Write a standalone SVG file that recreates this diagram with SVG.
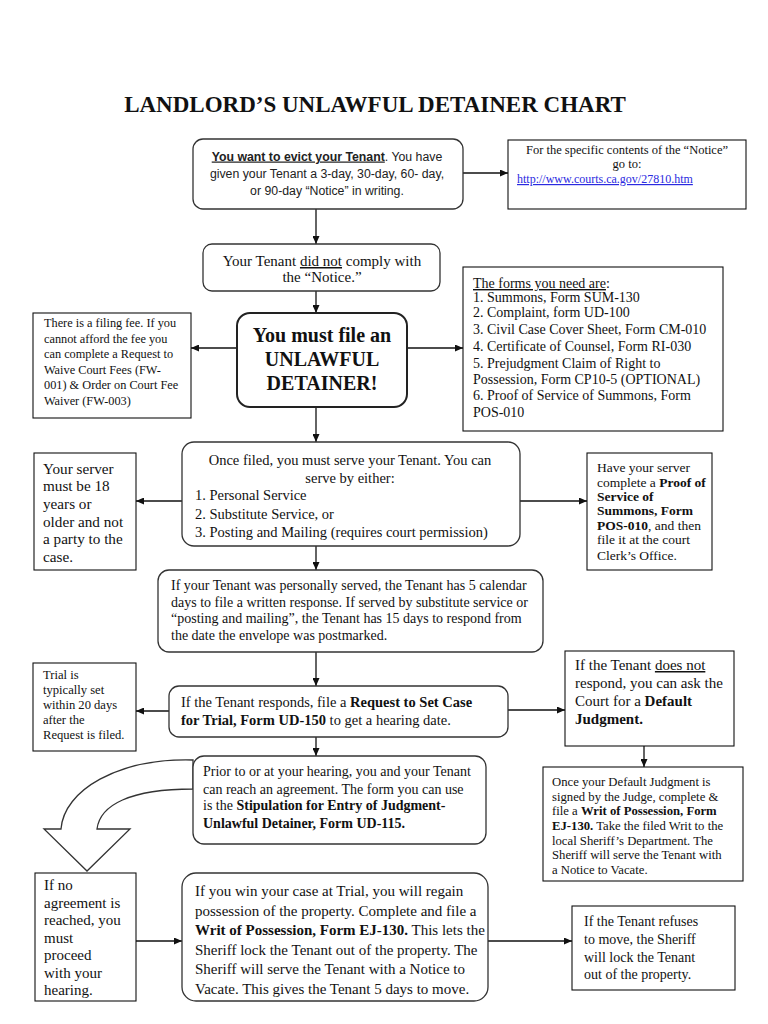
<svg xmlns="http://www.w3.org/2000/svg" width="768" height="1024" viewBox="0 0 768 1024">
<defs>
<marker id="ah" markerUnits="userSpaceOnUse" markerWidth="8" markerHeight="7" refX="8" refY="3.5" orient="auto"><path d="M0,0 L8,3.5 L0,7 z" fill="#111"/></marker>
<style>
.rb{fill:#fff;stroke:#333;stroke-width:1.3}
.sb{fill:#fff;stroke:#111;stroke-width:1.1}
.t{font-family:"Liberation Serif",serif;fill:#111}
.s{font-family:"Liberation Sans",Arial,sans-serif;fill:#222}
.b{font-weight:bold}
.u{text-decoration:underline}
.c{stroke:#111;stroke-width:1.3;fill:none;marker-end:url(#ah)}
</style>
</defs>
<rect width="768" height="1024" fill="#fff"/>
<text x="375" y="112" text-anchor="middle" class="t b" font-size="23">LANDLORD’S UNLAWFUL DETAINER CHART</text>

<g id="connectors">
<line class="c" x1="463" y1="173" x2="508" y2="173"/>
<line class="c" x1="316" y1="209" x2="316" y2="244"/>
<line class="c" x1="316" y1="291" x2="316" y2="313"/>
<line class="c" x1="237" y1="348" x2="191" y2="348"/>
<line class="c" x1="407" y1="348" x2="463" y2="348"/>
<line class="c" x1="316" y1="407" x2="316" y2="442"/>
<line class="c" x1="182" y1="501" x2="136" y2="501"/>
<line class="c" x1="520" y1="501" x2="587" y2="501"/>
<line class="c" x1="316" y1="546" x2="316" y2="570"/>
<line class="c" x1="316" y1="652" x2="316" y2="686"/>
<line class="c" x1="169" y1="711" x2="136" y2="711"/>
<line class="c" x1="508" y1="710" x2="565" y2="710"/>
<line class="c" x1="316" y1="737" x2="316" y2="756"/>
<line class="c" x1="644" y1="746" x2="644" y2="767"/>
<line class="c" x1="136" y1="941" x2="182" y2="941"/>
<line class="c" x1="488" y1="941" x2="572" y2="941"/>
<path id="curved-arrow" d="M193,760 C118,758 64,790 61,829 L44,829 L87,871 L130,829 L97,829 C100,805 130,789 193,789 Z" fill="#fff" stroke="#333" stroke-width="1.3"/>
</g>

<g id="evict">
<rect class="rb" x="193" y="139" width="270" height="70" rx="10"/>
<text class="s" font-size="12.3" x="327" y="160.5" text-anchor="middle"><tspan class="b u">You want to evict your Tenant</tspan>. You have</text>
<text class="s" font-size="12.3" x="327" y="177.5" text-anchor="middle">given your Tenant a 3-day, 30-day, 60- day,</text>
<text class="s" font-size="12.3" x="327" y="194.5" text-anchor="middle">or 90-day “Notice” in writing.</text>
</g>

<g id="notice-link">
<rect class="sb" x="508" y="140" width="238" height="69"/>
<text class="t" font-size="12.5" x="627" y="154" text-anchor="middle">For the specific contents of the “Notice”</text>
<text class="t" font-size="12.5" x="627" y="168" text-anchor="middle">go to:</text>
<text class="t u" font-size="12" x="517" y="183" style="fill:#2a2ae0">http://www.courts.ca.gov/27810.htm</text>
</g>

<g id="not-comply">
<rect class="rb" x="203" y="244" width="237" height="47" rx="9"/>
<text class="t" font-size="15" x="322" y="266" text-anchor="middle">Your Tenant <tspan class="u">did not</tspan> comply with</text>
<text class="t" font-size="15" x="322" y="282" text-anchor="middle">the “Notice.”</text>
</g>

<g id="file-ud">
<rect x="237" y="313" width="170" height="94" rx="13" fill="#fff" stroke="#222" stroke-width="2"/>
<text class="t b" font-size="20" x="322" y="342" text-anchor="middle">You must file an</text>
<text class="t b" font-size="20" x="322" y="366" text-anchor="middle">UNLAWFUL</text>
<text class="t b" font-size="20" x="322" y="390" text-anchor="middle">DETAINER!</text>
</g>

<g id="filing-fee">
<rect class="sb" x="33" y="313" width="158" height="105"/>
<text class="t" font-size="12.3">
<tspan x="44" y="327">There is a filing fee. If you</tspan>
<tspan x="44" y="342.5">cannot afford the fee you</tspan>
<tspan x="44" y="358">can complete a Request to</tspan>
<tspan x="44" y="373.5">Waive Court Fees (FW-</tspan>
<tspan x="44" y="389">001) &amp; Order on Court Fee</tspan>
<tspan x="44" y="404.5">Waiver (FW-003)</tspan>
</text>
</g>

<g id="forms">
<rect class="sb" x="463" y="267" width="260" height="164"/>
<text class="t" font-size="14">
<tspan x="473" y="288" class="u">The forms you need are</tspan><tspan>:</tspan>
<tspan x="473" y="302">1. Summons, Form SUM-130</tspan>
<tspan x="473" y="317">2. Complaint, form UD-100</tspan>
<tspan x="473" y="334">3. Civil Case Cover Sheet, Form CM-010</tspan>
<tspan x="473" y="351">4. Certificate of Counsel, Form RI-030</tspan>
<tspan x="473" y="368">5. Prejudgment Claim of Right to</tspan>
<tspan x="473" y="384">Possession, Form CP10-5 (OPTIONAL)</tspan>
<tspan x="473" y="400">6. Proof of Service of Summons, Form</tspan>
<tspan x="473" y="417">POS-010</tspan>
</text>
</g>

<g id="serve">
<rect class="rb" x="182" y="442" width="338" height="104" rx="12"/>
<text class="t" font-size="14.5" x="350" y="465" text-anchor="middle">Once filed, you must serve your Tenant. You can</text>
<text class="t" font-size="14.5" x="350" y="483" text-anchor="middle">serve by either:</text>
<text class="t" font-size="14.5" x="195" y="500">1. Personal Service</text>
<text class="t" font-size="14.5" x="195" y="519">2. Substitute Service, or</text>
<text class="t" font-size="14.5" x="195" y="537">3. Posting and Mailing (requires court permission)</text>
</g>

<g id="server-age">
<rect class="sb" x="34" y="453" width="102" height="117"/>
<text class="t" font-size="15.2">
<tspan x="43" y="474">Your server</tspan>
<tspan x="43" y="491">must be 18</tspan>
<tspan x="43" y="509">years or</tspan>
<tspan x="43" y="527">older and not</tspan>
<tspan x="43" y="544">a party to the</tspan>
<tspan x="43" y="562">case.</tspan>
</text>
</g>

<g id="proof">
<rect class="sb" x="587" y="453" width="125" height="117"/>
<text class="t" font-size="13.5">
<tspan x="597" y="472">Have your server</tspan>
<tspan x="597" y="486.5">complete a <tspan class="b">Proof of</tspan></tspan>
<tspan x="597" y="500.5" class="b">Service of</tspan>
<tspan x="597" y="514.5" class="b">Summons, Form</tspan>
<tspan x="597" y="529.5"><tspan class="b">POS-010</tspan>, and then</tspan>
<tspan x="597" y="543.5">file it at the court</tspan>
<tspan x="597" y="559.5">Clerk’s Office.</tspan>
</text>
</g>

<g id="response-time">
<rect class="rb" x="158" y="570" width="385" height="82" rx="11"/>
<text class="t" font-size="14">
<tspan x="171" y="590">If your Tenant was personally served, the Tenant has 5 calendar</tspan>
<tspan x="171" y="607">days to file a written response. If served by substitute service or</tspan>
<tspan x="171" y="623">“posting and mailing”, the Tenant has 15 days to respond from</tspan>
<tspan x="171" y="640">the date the envelope was postmarked.</tspan>
</text>
</g>

<g id="trial-set">
<rect class="sb" x="33" y="663" width="103" height="88"/>
<text class="t" font-size="12.6">
<tspan x="43" y="679">Trial is</tspan>
<tspan x="43" y="694">typically set</tspan>
<tspan x="43" y="709">within 20 days</tspan>
<tspan x="43" y="724">after the</tspan>
<tspan x="43" y="739">Request is filed.</tspan>
</text>
</g>

<g id="request-trial">
<rect class="rb" x="169" y="686" width="339" height="51" rx="10"/>
<text class="t" font-size="14.5">
<tspan x="181" y="707">If the Tenant responds, file a <tspan class="b">Request to Set Case</tspan></tspan>
<tspan x="181" y="725"><tspan class="b">for Trial, Form UD-150</tspan> to get a hearing date.</tspan>
</text>
</g>

<g id="default">
<rect class="sb" x="565" y="651" width="169" height="95"/>
<text class="t" font-size="15">
<tspan x="575" y="670">If the Tenant <tspan class="u">does not</tspan></tspan>
<tspan x="575" y="688">respond, you can ask the</tspan>
<tspan x="575" y="706">Court for a <tspan class="b">Default</tspan></tspan>
<tspan x="575" y="724" class="b">Judgment.</tspan>
</text>
</g>

<g id="default-writ">
<rect class="sb" x="543" y="767" width="200" height="114"/>
<text class="t" font-size="12.7">
<tspan x="552" y="786">Once your Default Judgment is</tspan>
<tspan x="552" y="800.5">signed by the Judge, complete &amp;</tspan>
<tspan x="552" y="815">file a <tspan class="b">Writ of Possession, Form</tspan></tspan>
<tspan x="552" y="830"><tspan class="b">EJ-130.</tspan> Take the filed Writ to the</tspan>
<tspan x="552" y="844.5">local Sheriff’s Department. The</tspan>
<tspan x="552" y="859">Sheriff will serve the Tenant with</tspan>
<tspan x="552" y="874">a Notice to Vacate.</tspan>
</text>
</g>

<g id="stipulation">
<rect class="rb" x="193" y="756" width="293" height="88" rx="11"/>
<text class="t" font-size="14">
<tspan x="203" y="776">Prior to or at your hearing, you and your Tenant</tspan>
<tspan x="203" y="793.5">can reach an agreement. The form you can use</tspan>
<tspan x="203" y="810">is the <tspan class="b">Stipulation for Entry of Judgment-</tspan></tspan>
<tspan x="203" y="828" class="b">Unlawful Detainer, Form UD-115.</tspan>
</text>
</g>

<g id="no-agreement">
<rect class="sb" x="35" y="873" width="101" height="128"/>
<text class="t" font-size="15">
<tspan x="44" y="890">If no</tspan>
<tspan x="44" y="907.5">agreement is</tspan>
<tspan x="44" y="925">reached, you</tspan>
<tspan x="44" y="942.5">must</tspan>
<tspan x="44" y="960">proceed</tspan>
<tspan x="44" y="977.5">with your</tspan>
<tspan x="44" y="995">hearing.</tspan>
</text>
</g>

<g id="win-trial">
<rect class="rb" x="182" y="873" width="306" height="128" rx="14"/>
<text class="t" font-size="15">
<tspan x="195" y="896">If you win your case at Trial, you will regain</tspan>
<tspan x="195" y="915.5">possession of the property. Complete and file a</tspan>
<tspan x="195" y="935"><tspan class="b">Writ of Possession, Form EJ-130.</tspan> This lets the</tspan>
<tspan x="195" y="954.5">Sheriff lock the Tenant out of the property. The</tspan>
<tspan x="195" y="974">Sheriff will serve the Tenant with a Notice to</tspan>
<tspan x="195" y="993.5">Vacate. This gives the Tenant 5 days to move.</tspan>
</text>
</g>

<g id="refuses">
<rect class="sb" x="572" y="906" width="163" height="84"/>
<text class="t" font-size="14">
<tspan x="584" y="926">If the Tenant refuses</tspan>
<tspan x="584" y="944">to move, the Sheriff</tspan>
<tspan x="584" y="962">will lock the Tenant</tspan>
<tspan x="584" y="979">out of the property.</tspan>
</text>
</g>
</svg>
